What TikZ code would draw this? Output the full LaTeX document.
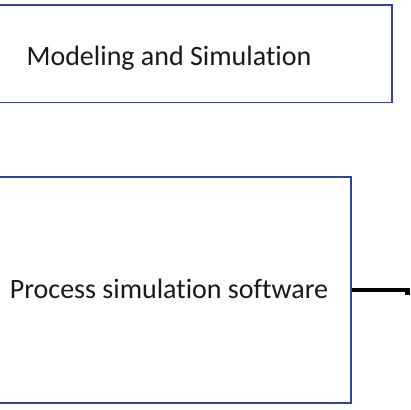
\documentclass[tikz,border=0pt]{standalone}
\usepackage{fontspec}
\setmainfont[Ligatures=NoCommon]{Carlito}
\usetikzlibrary{positioning}
\definecolor{boxblue}{RGB}{47,68,148}

\begin{document}
\begin{tikzpicture}[x=1pt,y=-1pt,inner sep=0pt]
	\tikzset{box/.style={draw=boxblue,line width=1.5pt,rectangle,text=black!90,font=\fontsize{28}{34}\selectfont}}
	\useasboundingbox (0,0) rectangle (410,410);
	\clip (0,0) rectangle (410,410);

	\node[box,minimum width=446pt,minimum height=97.7pt,text height=22.3pt,text depth=0pt] (MS) at (169,53.85) {Modeling and Simulation};
	\node[box,minimum width=364pt,minimum height=226pt,text height=16pt,text depth=0pt] (PSS) at (169,290.2) {Process simulation software};

	\coordinate (T) at (407.5,295);

	\draw[line width=4.5pt] (PSS.east) -| (T);

\end{tikzpicture}
\end{document}
